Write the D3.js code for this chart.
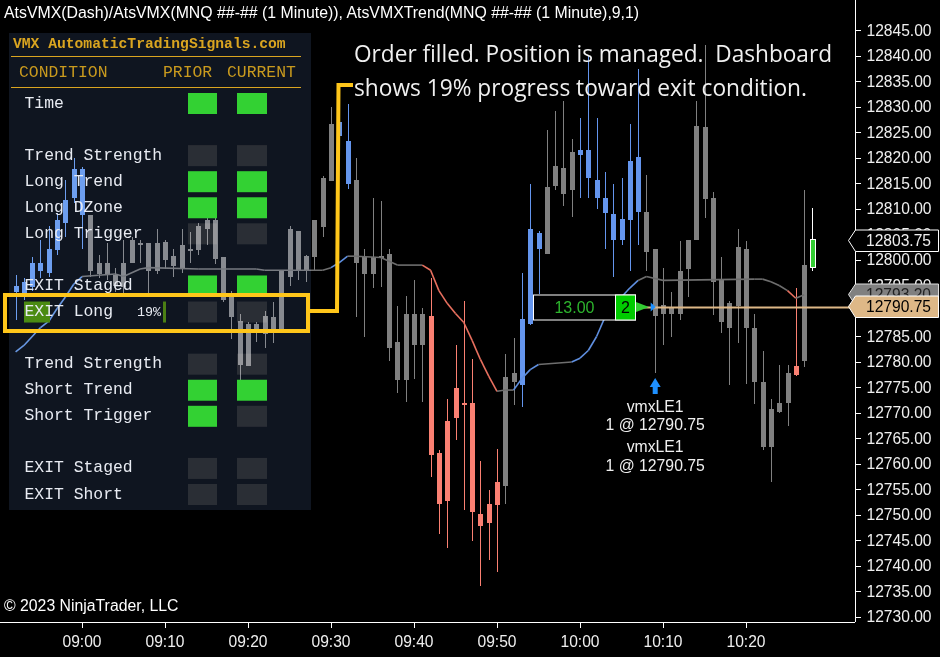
<!DOCTYPE html>
<html><head><meta charset="utf-8">
<script src="https://cdn.jsdelivr.net/npm/d3@7"></script>
<style>html,body{margin:0;padding:0;background:#000;overflow:hidden}svg{display:block}</style>
</head><body><svg id="c" width="940" height="657"></svg>
<script>
const barStart = -8; // minutes relative to 09:00
const barHigh = [12797,12796.5,12800.5,12804,12806.75,12809.25,12815.75,12820,12818.25,12808.75,12801,12803.25,12798.5,12804,12804.5,12804,12803.25,12806,12804,12802.25,12806,12805.5,12807.25,12808.25,12808.5,12800.5,12794,12789.5,12787.75,12787.75,12790,12791.75,12797.75,12806.75,12805.75,12801,12807.75,12816.5,12830,12830,12830.5,12820,12802.25,12812.25,12811.5,12802.25,12791,12793,12796,12790.5,12796.5,12762.75,12772.75,12783.25,12792,12780.5,12760.5,12755,12763,12781.5,12784.75,12797.5,12815,12805.75,12825.5,12829.25,12831.25,12823.75,12827.75,12840.25,12827.75,12817.25,12815,12816,12826.75,12837.5,12816.75,12802.25,12798.5,12793.75,12803.75,12804,12831.25,12842.25,12813.25,12800.5,12792,12806,12803.75,12789.5,12782.25,12772.75,12779.5,12779.5,12794.5,12813.75,12810.25];
const barTop = [12795,12795.75,12799.5,12799.5,12802.25,12807.75,12811.75,12817.75,12817.75,12808.75,12799.5,12799.5,12797,12799.5,12804,12803.25,12803.25,12803.25,12803.5,12800.75,12803,12802.25,12806.75,12807.75,12807.75,12800.5,12793.25,12788,12787.5,12787.5,12789,12788.75,12797.75,12806,12805.75,12800.75,12807.75,12816,12826.75,12827,12823.25,12815.75,12800.5,12800.5,12800.75,12801.25,12784,12789.5,12789.5,12789.5,12789,12762.25,12768.5,12775,12772,12772,12750.25,12752.25,12756.5,12777,12777.75,12788.5,12806,12805.25,12814.25,12818.5,12818,12821.25,12821.5,12821.5,12815.75,12812.25,12809,12808,12819.5,12820.25,12809.5,12802.25,12791.25,12790.5,12797.75,12804,12826.25,12826,12812.25,12796,12791.5,12802.5,12802.25,12786.75,12776,12770.75,12772,12777.75,12779.25,12799,12804];
const barBottom = [12793.75,12793.5,12794.75,12797.75,12797.5,12802,12807.25,12812.25,12808.75,12797.75,12797.25,12797.25,12795,12794.75,12799.5,12803,12797.75,12797.75,12800,12798.75,12798.5,12802,12802,12806,12800.25,12792.25,12788.75,12779.5,12779.25,12786,12785.5,12786.25,12786.5,12796.75,12797.75,12797.75,12800.5,12806.5,12815.5,12824.25,12815,12799.5,12797.25,12797.25,12800.5,12782.75,12776.5,12776.5,12783.25,12783.25,12761.75,12752.25,12752.75,12769,12771.5,12750.5,12747.75,12748.5,12752,12755.75,12776,12775.5,12787.5,12802.25,12801.25,12814.5,12813,12813.75,12820.5,12816,12812.25,12809.25,12804,12804,12807.75,12809.5,12801.5,12789,12789.5,12789.5,12789.5,12798.25,12804,12812,12795.75,12787.75,12786.75,12791,12786.75,12776,12763.25,12763.25,12770.25,12772,12777.5,12780.25,12798.5];
const barLow = [12788.25,12792.25,12794,12796.5,12796.75,12801,12804.5,12811.25,12802.25,12796.75,12796.5,12796,12793.75,12793.25,12799.5,12799.5,12793.5,12797.25,12798.25,12796.75,12797.5,12799.5,12801,12803,12799.25,12791.75,12784.5,12776.5,12779.25,12784,12782.75,12783.75,12786.5,12795,12796,12795.75,12797.75,12804.5,12815.5,12822.5,12814,12788.75,12785,12794.5,12794.75,12780.25,12774,12772.25,12776.75,12772.25,12757.5,12746.25,12743.5,12764.75,12751,12745,12736,12741.25,12738.75,12752.25,12771.5,12771.25,12787.25,12793.25,12801.25,12813.75,12810.5,12808.5,12812.25,12812.25,12810,12802.25,12796.75,12803,12797.75,12803,12797.75,12777.75,12783.25,12785,12788.25,12792.75,12804,12808.25,12789.25,12785.75,12775.5,12783.75,12775.75,12771.75,12762.75,12756.5,12770,12767.5,12777.25,12779,12797.75];
const barState = "BBBBBBBBB"+"GGGGGGGGGGGGGGGGGGGGGGGGGGGGGG"+"BB"+"GGGGGGGGG"+"RRRRRRRRR"+"GG"+"BBB"+"GGGG"+"BBBBBBBB"+"GGGGGGGGGGGGGGGGGG"+"RGL";

const trendMinute = [-8,-7,-5,-4,-3,-2,-1,0,2,4,5,7,8,14,21,22,29,30,31,32,33,36,37,38,41,42,43,44,45,46,47,48,49,50,51,52,53,54,55,59,60,61,62,63,64,65,66,67,68,70,81,82,83,84,85,86,87];
const trendPrice = [12782,12783.25,12786.75,12788,12790.5,12792.75,12795.25,12796.75,12797,12797.25,12796.75,12798.25,12798.5,12798.25,12798.25,12798,12798,12798.5,12799.5,12800.75,12800.75,12800.5,12799.75,12799,12799,12798,12794,12791.5,12789.5,12787.75,12784.25,12780.5,12777.25,12774.25,12774.5,12774.5,12776.75,12778.5,12779.5,12780,12780.75,12782.25,12785,12788.75,12790.5,12792.75,12794.5,12796,12796.75,12796,12796.25,12796.25,12795.75,12795,12794,12792.5,12793.2];
const trendState = "BBBBBBB"+"GGGGGGGGGG"+"BB"+"GGGGG"+"RRRRRRRRR"+"GG"+"BBB"+"G"+"BBBBBBBB"+"GGGGGGG"+"RG";

const xTickMinutes = [0,10,20,30,40,50,60,70,80];
const xTickLabels = ["09:00","09:10","09:20","09:30","09:40","09:50","10:00","10:10","10:20"];
const yTickValues = d3.range(12730,12846,5);
const lastPrice = 12803.75, trendLast = 12793.20, entryPrice = 12790.75;
const entryMinute = 69, targetTicks = "13.00", positionQty = "2";
const titleText = "AtsVMX(Dash)/AtsVMX(MNQ ##-## (1 Minute)), AtsVMXTrend(MNQ ##-## (1 Minute),9,1)";
const copyrightText = "\u00A9 2023 NinjaTrader, LLC";
const noteLines = ["Order filled. Position is managed.  Dashboard","shows 19% progress toward exit condition."];
const orderLines = ["vmxLE1","1 @ 12790.75","vmxLE1","1 @ 12790.75"];

const rowLabels = ["Time","","Trend Strength","Long Trend","Long DZone","Long Trigger","","EXIT Staged","EXIT Long","","Trend Strength","Short Trend","Short Trigger","","EXIT Staged","EXIT Short"];
const rowPrior  = [1,null,0,1,1,0,null,1,0,null,0,1,1,null,0,0];
const rowCurrent= [1,null,0,1,1,0,null,1,0,null,0,1,0,null,0,0];
const dashHeader = "VMX AutomaticTradingSignals.com";
const dashColumns = ["CONDITION","PRIOR","CURRENT"];
const exitProgress = "19%";

const svg = d3.select("#c");
const SANS = "'Liberation Sans',Arial,sans-serif", MONO = "'Liberation Mono',monospace";
svg.append("rect").attr("width",940).attr("height",657).attr("fill","#000");
const W = 855, H = 622;
const x = d3.scaleLinear().domain([-82/8.3,(W-82)/8.3]).range([0,W]);
const y = d3.scaleLinear().domain([12800-(H-260)/5.1,12800+260/5.1]).range([H,0]);

// axes
const yAxis = d3.axisRight(y).tickValues(yTickValues).tickSize(5).tickSizeOuter(0).tickPadding(6).tickFormat(d3.format(".2f")).offset(0);
const xAxis = d3.axisBottom(x).tickValues(xTickMinutes).tickSize(5).tickSizeOuter(0).tickPadding(8).tickFormat((d,i)=>xTickLabels[i]).offset(0);
const gy = svg.append("g").attr("transform",`translate(${W}.5,0)`).call(yAxis);
const gx = svg.append("g").attr("transform",`translate(0,${H}.5)`).call(xAxis);
[gy,gx].forEach(g=>{
  g.selectAll("path.domain").attr("stroke","#fff").attr("stroke-width",1);
  g.selectAll("line").attr("stroke","#fff").attr("shape-rendering","crispEdges");
  g.selectAll("text").attr("fill","#efefef").attr("font-family",SANS).attr("font-size",15.6);
});

// candles
const clr = {B:"#6495ED",G:"#808080",R:"#FA8072",L:"#32CD32"};
const bars = d3.range(barHigh.length).map(i=>({m:barStart+i,h:barHigh[i],t:barTop[i],b:barBottom[i],l:barLow[i],s:barState[i]}));
const cg = svg.append("g").attr("shape-rendering","crispEdges");
cg.selectAll("rect.w").data(bars).join("rect").attr("class","w")
  .attr("x",d=>Math.round(x(d.m))).attr("width",1)
  .attr("y",d=>y(d.h)).attr("height",d=>y(d.l)-y(d.h))
  .attr("fill",d=>d.s==="L"?"#fff":clr[d.s]);
cg.selectAll("rect.b").data(bars).join("rect").attr("class","b")
  .attr("x",d=>Math.round(x(d.m))-2).attr("width",5)
  .attr("y",d=>y(d.t)).attr("height",d=>Math.max(2,y(d.b)-y(d.t)))
  .attr("fill",d=>clr[d.s]).attr("stroke",d=>d.s==="L"?"#fff":"none");

// trend line
const trendClr = {B:"#5f8fe0",G:"#6e6e6e",R:"#E8705F"};
const tl = d3.line().x(d=>x(d[0])).y(d=>y(d[1]));
const tg = svg.append("g").attr("fill","none").attr("stroke-width",1.6).attr("stroke-linejoin","round");
for(let i=1;i<trendMinute.length;i++){
  tg.append("path").attr("d",tl([[trendMinute[i-1],trendPrice[i-1]],[trendMinute[i],trendPrice[i]]]))
    .attr("stroke",trendClr[trendState[i-1]]);
}

// dashboard
const dash = svg.append("g");
dash.append("rect").attr("x",9).attr("y",33).attr("width",302).attr("height",477).attr("fill","#0f1520").style("mix-blend-mode","screen");
const gold = "#DAA520";
dash.append("text").attr("x",13).attr("y",47.5).text(dashHeader).attr("fill",gold).attr("font-family",MONO).attr("font-weight","bold").attr("font-size",14.67);
[56.5,87.5].forEach(v=>dash.append("line").attr("x1",11).attr("x2",301).attr("y1",v).attr("y2",v).attr("stroke",gold));
[19,163,227].forEach((px,i)=>dash.append("text").attr("x",px).attr("y",77).text(dashColumns[i]).attr("fill","#c99a1e").attr("font-family",MONO).attr("font-size",16.4));
const rowY = d3.scalePoint().domain(d3.range(rowLabels.length)).range([103.5,494.5]);
dash.append("rect").attr("x",24).attr("y",rowY(8)-10.5).attr("width",26).attr("height",21).attr("fill","#4b8b12");
rowLabels.forEach((lab,i)=>{
  if(!lab) return;
  const c = rowY(i);
  [[188,29,rowPrior[i]],[237,30,rowCurrent[i]]].forEach(([px,w,on])=>{
    const r = dash.append("rect").attr("x",px).attr("y",c-10.5).attr("width",w).attr("height",21);
    if(on) r.attr("fill","#33D133"); else r.attr("fill","#1d1b18").style("mix-blend-mode","screen");
  });
  dash.append("text").attr("x",24.5).attr("y",c+4).text(lab).attr("fill","#e8ebf2").attr("font-family",MONO).attr("font-size",16.4);
});
dash.append("text").attr("x",137).attr("y",rowY(8)+3.5).text(exitProgress).attr("fill","#e8ebf2").attr("font-family",MONO).attr("font-size",13.4);
dash.append("rect").attr("x",163).attr("y",rowY(8)-10.5).attr("width",3).attr("height",21).attr("fill","#4b7f14");

// yellow call-out
svg.append("rect").attr("x",5).attr("y",295).attr("width",303).attr("height",36).attr("fill","none").attr("stroke","#FFC61A").attr("stroke-width",4);
svg.append("path").attr("d","M308,311H337L338.5,85H353").attr("fill","none").attr("stroke","#FFC61A").attr("stroke-width",4);

// note text
[478,453].forEach((len,i)=>svg.append("text").attr("x",354).attr("y",62+i*33.5).text(noteLines[i]).attr("fill","#f0f0f0").attr("font-family","'Open Sans',sans-serif").attr("font-size",23.5).attr("textLength",len).attr("lengthAdjust","spacingAndGlyphs").style("white-space","pre"));

// title & copyright
svg.append("text").attr("x",4).attr("y",18).text(titleText).attr("fill","#fff").attr("font-family",SANS).attr("font-size",15.85);
svg.append("text").attr("x",4).attr("y",611).text(copyrightText).attr("fill","#fff").attr("font-family",SANS).attr("font-size",15.8);

// entry line, tags
const ey = Math.round(y(entryPrice));
const ex = x(entryMinute);
svg.append("line").attr("x1",636).attr("x2",850).attr("y1",ey+.5).attr("y2",ey+.5).attr("stroke","#DEB887").attr("stroke-width",2);
svg.append("path").attr("d",`M636,${ey-5}L649,${ey}L636,${ey+5}Z`).attr("fill","#33cc33");
svg.append("path").attr("d",`M${ex-4},${ey-4.5}L${ex+1},${ey}L${ex-4},${ey+4.5}Z`).attr("fill","#1E90FF");
svg.append("rect").attr("x",533.5).attr("y",ey-12).attr("width",102).attr("height",25).attr("fill","#000").attr("stroke","#fff");
svg.append("rect").attr("x",615.5).attr("y",ey-12).attr("width",20).attr("height",25).attr("fill","#00CC00").attr("stroke","#fff");
svg.append("text").attr("x",574.5).attr("y",ey+6).attr("text-anchor","middle").text(targetTicks).attr("fill","#2db52d").attr("font-family",SANS).attr("font-size",16);
svg.append("text").attr("x",625.5).attr("y",ey+6).attr("text-anchor","middle").text(positionQty).attr("fill","#000").attr("font-family",SANS).attr("font-size",16);

// order arrow and labels
const ax = x(entryMinute)+0.5;
svg.append("path").attr("d",`M${ax},378L${ax+5.5},387H${ax+2.5}V394H${ax-2.5}V387H${ax-5.5}Z`).attr("fill","#1E90FF");
[412,430,452,471].forEach((py,i)=>svg.append("text").attr("x",ax).attr("y",py).attr("text-anchor","middle").text(orderLines[i]).attr("fill","#efefef").attr("font-family",SANS).attr("font-size",15.75));

// price tags
function tag(v,fill,stroke,tc){
  const c = Math.round(y(v));
  svg.append("path").attr("d",`M848.5,${c-.5}L855.5,${c-11}H938.5V${c+10.5}H855.5Z`).attr("fill",fill).attr("stroke",stroke);
  svg.append("text").attr("x",866).attr("y",c+5).text(v.toFixed(2)).attr("fill",tc).attr("font-family",SANS).attr("font-size",15.6);
}
tag(lastPrice,"#000","#fff","#efefef");
tag(trendLast,"#808080","#ddd","#222");
tag(entryPrice,"#DEB887","#fff","#000");
</script></body></html>
